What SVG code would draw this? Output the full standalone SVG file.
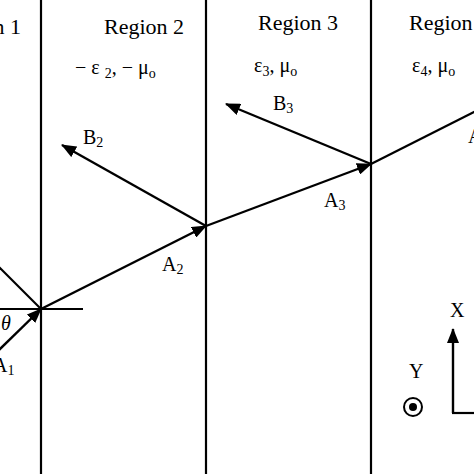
<svg xmlns="http://www.w3.org/2000/svg" width="474" height="474" viewBox="0 0 474 474">
<style>
.ln{stroke:#000;stroke-width:2.2;fill:none}
.ar{stroke:#000;stroke-width:2.4;fill:none;marker-end:url(#ah)}
text{font-family:"Liberation Serif","Times New Roman",serif;fill:#000}
.rg{font-size:22px}
.lb{font-size:20px}
.sb{font-size:14px}
</style>
<defs>
<marker id="ah" viewBox="0 0 15 12" refX="14" refY="6" markerWidth="15" markerHeight="12" markerUnits="userSpaceOnUse" orient="auto">
<path d="M0,0 L15,6 L0,12 z" fill="#000"/>
</marker>
</defs>
<rect width="474" height="474" fill="#fff"/>
<g id="boundaries">
<line class="ln" x1="41" y1="0" x2="41" y2="474"/>
<line class="ln" x1="206" y1="0" x2="206" y2="474"/>
<line class="ln" x1="371" y1="0" x2="371" y2="474"/>
<line class="ln" x1="0" y1="309" x2="83" y2="309"/>
</g>
<g id="region1"><text class="rg" x="21" y="34" text-anchor="end">Region 1</text></g>
<g id="region2"><text class="rg" x="104" y="34">Region 2</text>
<text class="lb" x="75" y="74">− ε <tspan class="sb" dy="4">2</tspan><tspan dy="-4">, − μ</tspan><tspan class="sb" dy="4">o</tspan></text></g>
<g id="region3"><text class="rg" x="258" y="30">Region 3</text>
<text class="lb" x="254" y="72">ε<tspan class="sb" dy="4">3</tspan><tspan dy="-4">, μ</tspan><tspan class="sb" dy="4">o</tspan></text></g>
<g id="region4"><text class="rg" x="409" y="30">Region 4</text>
<text class="lb" x="412" y="72">ε<tspan class="sb" dy="4">4</tspan><tspan dy="-4">, μ</tspan><tspan class="sb" dy="4">o</tspan></text></g>
<g id="connectors">
<line class="ar" x1="-1" y1="350" x2="41" y2="309"/>
<line class="ln" x1="41" y1="309" x2="-2" y2="266"/>
<line class="ar" x1="41" y1="309" x2="206" y2="226"/>
<line class="ar" x1="206" y1="226" x2="62" y2="145"/>
<line class="ar" x1="206" y1="226" x2="371" y2="164"/>
<line class="ar" x1="371" y1="164" x2="226" y2="104"/>
<line class="ln" x1="371" y1="164" x2="480" y2="109"/>
</g>
<g id="labels">
<text class="lb" font-style="italic" x="1" y="330">θ</text>
<text class="lb" x="-7" y="372">A<tspan class="sb" dy="3">1</tspan></text>
<text class="lb" x="83" y="144">B<tspan class="sb" dy="3">2</tspan></text>
<text class="lb" x="162" y="271">A<tspan class="sb" dy="3">2</tspan></text>
<text class="lb" x="273" y="110">B<tspan class="sb" dy="3">3</tspan></text>
<text class="lb" x="324" y="207">A<tspan class="sb" dy="3">3</tspan></text>
<text class="lb" x="468" y="143">A<tspan class="sb" dy="3">4</tspan></text>
</g>
<g id="axes">
<line class="ar" x1="453" y1="413" x2="453" y2="329"/>
<line class="ln" x1="452" y1="413" x2="474" y2="413"/>
<text class="lb" x="450" y="317">X</text>
<text class="lb" x="409" y="378">Y</text>
<circle cx="413" cy="407" r="9" fill="none" stroke="#000" stroke-width="2"/>
<circle cx="413" cy="407" r="4" fill="#000"/>
</g>
</svg>
